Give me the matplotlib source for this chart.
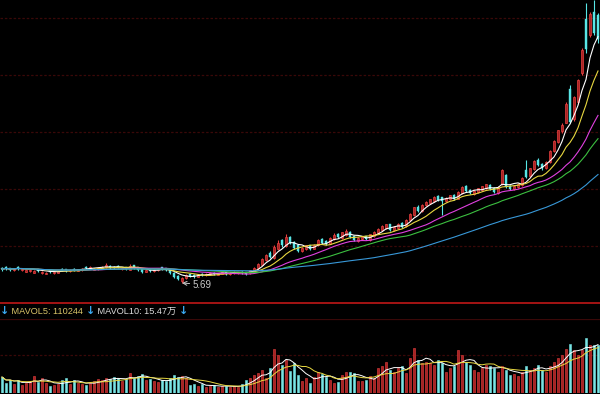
import numpy as np
import pandas as pd
import matplotlib
matplotlib.use("Agg")
import matplotlib.pyplot as plt
from matplotlib.lines import Line2D

# 日K数据（开、高、低、收），从图上读数估计
opens = [
    6.00, 6.02, 5.99, 5.95, 6.02, 5.95, 5.92, 5.93, 5.90, 5.97,
    5.89, 5.88, 5.95, 5.89, 5.90, 5.98, 5.97, 5.93, 5.98, 5.94,
    5.95, 6.02, 5.98, 5.96, 5.97, 5.99, 6.01, 6.04, 6.02, 6.04,
    5.97, 6.01, 5.96, 6.05, 6.01, 5.97, 5.92, 5.96, 5.93, 5.95,
    6.01, 5.99, 5.96, 5.90, 5.84, 5.74, 5.79, 5.88, 5.86, 5.82,
    5.88, 5.85, 5.87, 5.90, 5.86, 5.88, 5.91, 5.87, 5.89, 5.89,
    5.92, 5.91, 5.89, 5.94, 5.99, 6.06, 6.16, 6.30, 6.20, 6.38,
    6.56, 6.44, 6.62, 6.52, 6.44, 6.33, 6.38, 6.45, 6.38, 6.45,
    6.58, 6.54, 6.48, 6.58, 6.68, 6.60, 6.66, 6.72, 6.63, 6.54,
    6.58, 6.63, 6.56, 6.64, 6.70, 6.76, 6.80, 6.86, 6.75, 6.80,
    6.90, 6.84, 6.95, 7.05, 7.22, 7.14, 7.25, 7.30, 7.34, 7.44,
    7.40, 7.33, 7.38, 7.45, 7.38, 7.50, 7.64, 7.56, 7.48, 7.52,
    7.56, 7.60, 7.66, 7.60, 7.50, 7.68, 7.86, 7.64, 7.57, 7.62,
    7.66, 7.96, 7.84, 7.98, 8.16, 8.08, 8.00, 8.12, 8.34, 8.52,
    8.72, 8.90, 9.56, 8.96, 9.30, 9.88, 10.98, 10.66, 11.10, 11.05,
]
highs = [
    6.02, 6.03, 6.00, 5.99, 6.03, 5.98, 5.96, 5.97, 5.95, 5.98,
    5.93, 5.91, 5.96, 5.92, 5.94, 5.99, 5.98, 5.97, 5.99, 5.98,
    5.99, 6.03, 6.03, 5.99, 6.01, 6.04, 6.09, 6.06, 6.03, 6.05,
    6.02, 6.02, 6.08, 6.06, 6.02, 5.98, 5.97, 5.97, 5.97, 5.99,
    6.02, 6.00, 5.97, 5.91, 5.85, 5.82, 5.88, 5.89, 5.87, 5.87,
    5.89, 5.89, 5.91, 5.91, 5.90, 5.92, 5.92, 5.91, 5.93, 5.92,
    5.93, 5.92, 5.96, 6.02, 6.10, 6.20, 6.28, 6.33, 6.45, 6.55,
    6.58, 6.68, 6.64, 6.53, 6.45, 6.42, 6.46, 6.46, 6.48, 6.58,
    6.60, 6.56, 6.62, 6.70, 6.70, 6.72, 6.78, 6.74, 6.64, 6.62,
    6.64, 6.64, 6.68, 6.74, 6.80, 6.86, 6.88, 6.88, 6.84, 6.90,
    6.92, 6.98, 7.10, 7.22, 7.25, 7.28, 7.34, 7.38, 7.44, 7.46,
    7.42, 7.42, 7.46, 7.47, 7.54, 7.64, 7.66, 7.58, 7.56, 7.60,
    7.64, 7.68, 7.68, 7.62, 7.64, 7.98, 7.88, 7.66, 7.66, 7.70,
    7.82, 8.15, 8.00, 8.16, 8.20, 8.10, 8.14, 8.36, 8.56, 8.76,
    8.90, 9.32, 9.66, 9.44, 9.78, 10.40, 11.30, 11.12, 11.35, 11.10,
]
lows = [
    5.94, 5.96, 5.94, 5.94, 5.95, 5.94, 5.91, 5.92, 5.89, 5.92,
    5.88, 5.87, 5.90, 5.88, 5.89, 5.93, 5.92, 5.92, 5.93, 5.93,
    5.94, 5.97, 5.97, 5.95, 5.96, 5.98, 6.00, 5.98, 5.97, 5.99,
    5.96, 5.95, 5.95, 5.98, 5.93, 5.90, 5.91, 5.91, 5.92, 5.94,
    5.95, 5.93, 5.88, 5.80, 5.76, 5.69, 5.77, 5.82, 5.80, 5.81,
    5.83, 5.84, 5.86, 5.85, 5.85, 5.87, 5.86, 5.86, 5.88, 5.88,
    5.87, 5.86, 5.88, 5.93, 5.98, 6.05, 6.14, 6.20, 6.18, 6.36,
    6.42, 6.42, 6.48, 6.38, 6.31, 6.31, 6.36, 6.36, 6.37, 6.44,
    6.48, 6.46, 6.47, 6.56, 6.60, 6.58, 6.64, 6.60, 6.53, 6.52,
    6.56, 6.55, 6.54, 6.62, 6.68, 6.74, 6.78, 6.74, 6.73, 6.78,
    6.80, 6.82, 6.93, 7.03, 7.12, 7.12, 7.23, 7.28, 7.32, 7.34,
    7.05, 7.31, 7.36, 7.36, 7.37, 7.48, 7.52, 7.48, 7.46, 7.50,
    7.54, 7.58, 7.56, 7.50, 7.48, 7.66, 7.60, 7.55, 7.55, 7.60,
    7.64, 7.80, 7.82, 7.96, 8.04, 7.96, 7.98, 8.10, 8.32, 8.50,
    8.70, 8.88, 8.88, 8.94, 9.28, 9.86, 10.30, 10.62, 10.66, 10.50,
]
closes = [
    5.97, 5.99, 5.96, 5.98, 6.00, 5.97, 5.95, 5.96, 5.93, 5.94,
    5.92, 5.90, 5.92, 5.91, 5.93, 5.95, 5.94, 5.96, 5.95, 5.97,
    5.98, 5.99, 6.01, 5.98, 6.00, 6.02, 6.05, 6.00, 5.99, 6.01,
    6.00, 5.97, 6.04, 6.00, 5.95, 5.92, 5.95, 5.93, 5.96, 5.98,
    5.97, 5.95, 5.90, 5.82, 5.78, 5.80, 5.86, 5.84, 5.83, 5.86,
    5.85, 5.88, 5.90, 5.87, 5.89, 5.91, 5.88, 5.90, 5.92, 5.91,
    5.89, 5.88, 5.95, 6.00, 6.08, 6.18, 6.26, 6.22, 6.42, 6.50,
    6.45, 6.62, 6.50, 6.40, 6.34, 6.40, 6.44, 6.38, 6.46, 6.56,
    6.50, 6.48, 6.60, 6.66, 6.62, 6.70, 6.74, 6.62, 6.55, 6.60,
    6.62, 6.57, 6.66, 6.72, 6.78, 6.84, 6.86, 6.76, 6.82, 6.88,
    6.82, 6.96, 7.08, 7.20, 7.14, 7.26, 7.32, 7.36, 7.42, 7.36,
    7.34, 7.40, 7.44, 7.38, 7.52, 7.62, 7.54, 7.50, 7.54, 7.58,
    7.62, 7.66, 7.58, 7.52, 7.62, 7.94, 7.62, 7.58, 7.64, 7.68,
    7.80, 7.82, 7.98, 8.14, 8.06, 8.00, 8.12, 8.34, 8.54, 8.74,
    8.86, 9.28, 8.92, 9.40, 9.75, 10.35, 10.38, 11.08, 10.70, 10.58,
]
volumes = [
    48000, 30000, 39000, 27000, 39000, 24000, 30000, 36000, 51000, 33000,
    45000, 30000, 21000, 24000, 27000, 39000, 45000, 27000, 39000, 30000,
    27000, 24000, 30000, 36000, 42000, 39000, 45000, 42000, 48000, 45000,
    36000, 42000, 60000, 45000, 51000, 57000, 39000, 42000, 36000, 33000,
    39000, 36000, 45000, 54000, 48000, 51000, 45000, 24000, 27000, 21000,
    27000, 18000, 21000, 24000, 18000, 21000, 21000, 18000, 21000, 18000,
    27000, 39000, 45000, 54000, 60000, 69000, 45000, 75000, 132000, 114000,
    84000, 99000, 66000, 90000, 54000, 36000, 45000, 30000, 48000, 63000,
    57000, 48000, 39000, 30000, 33000, 54000, 63000, 63000, 60000, 36000,
    36000, 39000, 51000, 45000, 75000, 81000, 93000, 69000, 63000, 75000,
    81000, 60000, 105000, 135000, 99000, 90000, 93000, 90000, 84000, 99000,
    90000, 63000, 75000, 81000, 129000, 114000, 93000, 84000, 69000, 63000,
    75000, 84000, 81000, 75000, 63000, 81000, 69000, 54000, 57000, 51000,
    63000, 81000, 69000, 75000, 84000, 69000, 63000, 81000, 93000, 105000,
    114000, 132000, 147000, 129000, 114000, 129000, 165000, 144000, 144000, 144000,
]

ma_periods = [5, 10, 20, 30, 60]
ma_colors = ["#ffffff", "#e8d840", "#e040e0", "#3cc040", "#3898d8"]
vol_ma_periods = [5, 10]
vol_ma_colors = ["#ffffff", "#e8d840"]
low_label = "5.69"
header_parts = [
    ("↓", "#3aa8f0"), (" MAVOL5: 110244 ", "#d8c468"), ("↓", "#3aa8f0"),
    (" MAVOL10: 15.47万 ", "#dcdcdc"), ("↓", "#3aa8f0"),
]

UP_FACE, UP_EDGE = "#a82222", "#e84040"
DN_COLOR = "#58e6e6"
GRID_RED = "#3a0808"

df = pd.DataFrame({"open": opens, "high": highs, "low": lows,
                   "close": closes, "vol": volumes})
n = len(df)
x = np.arange(n)
up = df["close"] >= df["open"]

fig = plt.figure(figsize=(6.0, 3.94), dpi=100, facecolor="black")
ax = fig.add_axes([0, 94 / 394, 1, 300 / 394], facecolor="black")
axv = fig.add_axes([0, 1 / 394, 1, 74 / 394], facecolor="black")

# 价格区网格线
for lvl in [6.43, 7.57, 8.71, 9.85, 10.99]:
    ax.axhline(lvl, color=GRID_RED, lw=0.9, ls=(0, (2, 1.5)), zorder=0)

# K线
body_lo = np.minimum(df["open"], df["close"])
body_h = np.maximum((df["close"] - df["open"]).abs(), 0.008)
wick_col = [UP_EDGE if u else DN_COLOR for u in up]
ax.vlines(x, df["low"], df["high"], colors=wick_col, lw=0.8, zorder=2)
ax.bar(x[up], body_h[up], bottom=body_lo[up], width=0.72,
       color=UP_FACE, edgecolor=UP_EDGE, linewidth=0.5, zorder=3)
ax.bar(x[~up], body_h[~up], bottom=body_lo[~up], width=0.72,
       color=DN_COLOR, edgecolor=DN_COLOR, linewidth=0.3, zorder=3)

# 均线
for p, c in zip(ma_periods, ma_colors):
    ma = df["close"].rolling(p, min_periods=1).mean()
    ax.plot(x, ma, color=c, lw=0.8, zorder=4)

# 最低价标注
i_low = int(df["low"].idxmin())
ax.annotate(low_label, xy=(i_low, df["low"][i_low]),
            xytext=(i_low + 2.6, df["low"][i_low] - 0.03),
            color="#c8c8c8", fontsize=7, va="center", ha="left",
            family=["Liberation Sans", "DejaVu Sans"],
            arrowprops=dict(arrowstyle="->", color="#c8c8c8", lw=0.7,
                            shrinkA=0, shrinkB=0))

ax.set_xlim(-0.5, n - 0.5)
ax.set_ylim(5.35, 11.35)
ax.axis("off")

# 成交量
vol_col_face = [UP_FACE if u else "#78e4e4" for u in up]
vol_col_edge = [UP_EDGE if u else "#78e4e4" for u in up]
axv.axhline(114000, color=GRID_RED, lw=0.9, ls=(0, (2, 1.5)), zorder=0)
axv.axhline(221000, color=GRID_RED, lw=0.9, zorder=0)
axv.bar(x, df["vol"], width=0.72, color=vol_col_face,
        edgecolor=vol_col_edge, linewidth=0.4, zorder=2)
for p, c in zip(vol_ma_periods, vol_ma_colors):
    vma = df["vol"].rolling(p, min_periods=1).mean()
    axv.plot(x, vma, color=c, lw=0.7, zorder=3)
axv.set_xlim(-0.5, n - 0.5)
axv.set_ylim(0, 222000)
axv.axis("off")

# 分隔红线
fig.add_artist(Line2D([0, 1], [(394 - 302.5) / 394] * 2, color="#c01818",
                      lw=1.2, transform=fig.transFigure))

# 成交量标题
xpos = 0
for txt, col in header_parts:
    big = txt == "↓"
    t = fig.text(xpos / 600, (394 - 311) / 394, txt, color=col,
                 fontsize=8 if big else 6.6, fontweight="bold" if big else "normal",
                 va="center", ha="left",
                 family=["DejaVu Sans", "Noto Sans CJK SC"] if big
                 else ["Liberation Sans", "Noto Sans CJK SC", "DejaVu Sans"])
    fig.canvas.draw()
    bb = t.get_window_extent()
    xpos = bb.x1

fig.savefig("out.png", dpi=100, facecolor="black")
